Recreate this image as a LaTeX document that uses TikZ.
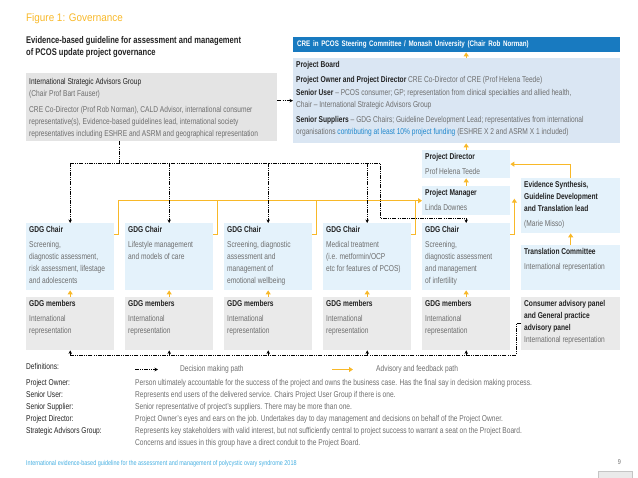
\documentclass[tikz,border=0pt]{standalone}
\usepackage{fontspec}
\setmainfont{Liberation Sans}[FakeStretch=0.78]
\newfontfamily\titlefont{Liberation Sans}[FakeStretch=0.9]
\usetikzlibrary{arrows.meta, calc}
\definecolor{govorange}{RGB}{248,184,40}
\definecolor{govblue}{RGB}{24,122,192}
\definecolor{boardfill}{RGB}{218,230,243}
\definecolor{chairfill}{RGB}{228,242,251}
\definecolor{greyfill}{RGB}{234,234,234}
\definecolor{isagfill}{RGB}{228,228,228}
\definecolor{ink}{RGB}{35,35,35}
\definecolor{soft}{RGB}{110,110,110}
\definecolor{linkblue}{RGB}{30,135,205}
\definecolor{footblue}{RGB}{70,175,225}
\newcommand{\bodyfont}{\fontsize{8.5}{12}\selectfont}
\newcommand{\head}[1]{{\color{ink}\bfseries #1}}
\newcommand{\boxtext}[3]{\parbox[t][#2pt][t]{#1pt}{\raggedright #3}}
\tikzset{
  cell/.style      = {anchor=north west, inner sep=3pt, font=\bodyfont, text=soft},
  chairbox/.style  = {cell, fill=chairfill},
  memberbox/.style = {cell, fill=greyfill},
  boardbox/.style  = {cell, fill=boardfill},
  isagbox/.style   = {cell, fill=isagfill, inner ysep=5pt},
  hdrbox/.style    = {anchor=north west, fill=govblue, text=white,
                      font=\fontsize{8}{10}\selectfont\bfseries,
                      text width=319pt, align=left, inner xsep=4pt, inner ysep=2pt,
                      minimum height=15pt},
  advise/.style    = {draw=govorange, line width=1pt, -{Triangle[length=4pt, width=5pt]}},
  advline/.style   = {draw=govorange, line width=1pt},
  decline/.style   = {draw=black, line width=0.8pt,
                      dash pattern=on 4pt off 1.2pt on 0.8pt off 1.2pt on 0.8pt off 1.2pt},
  decide/.style    = {decline, -{Stealth[length=3.5pt, width=3.5pt]}},
  deflabel/.style  = {anchor=base west, inner sep=0pt, font=\bodyfont, text=ink},
  deftext/.style   = {anchor=base west, inner sep=0pt, font=\bodyfont, text=soft},
}
\begin{document}
\begin{tikzpicture}[x=1pt, y=-1pt]
  \useasboundingbox (0,0) rectangle (638,478);

  % title
  \node[anchor=base west, inner sep=0pt, font=\titlefont\fontsize{11}{13}\selectfont,
        text=govorange] (title) at (26,21.5) {Figure 1: Governance};
  \node[anchor=north west, inner sep=0pt, align=left, text=ink,
        font=\fontsize{9.7}{12}\selectfont\bfseries] (subtitle) at (26,36)
        {Evidence-based guideline for assessment and management\\
         of PCOS update project governance};

  % upper boxes
  \node[isagbox] (isag) at (26,73) {\boxtext{245}{58}{%
    {\color{ink}International Strategic Advisors Group}\\
    (Chair Prof Bart Fauser)\\[4pt]
    CRE Co-Director (Prof Rob Norman), CALD Advisor, international consumer\\
    representative(s), Evidence-based guidelines lead, international society\\
    representatives including ESHRE and ASRM and geographical representation}};
  \node[hdrbox] (hdr) at (293,37)
    {CRE in PCOS Steering Committee / Monash University (Chair Rob Norman)};
  \node[boardbox] (pb) at (293,58) {\boxtext{321}{79}{%
    \head{Project Board}\\[3pt]
    \head{Project Owner and Project Director} CRE Co-Director of CRE (Prof Helena Teede)\\[1pt]
    \head{Senior User} -- PCOS consumer; GP; representation from clinical specialties and allied health,\\
    Chair -- International Strategic Advisors Group\\[3pt]
    \head{Senior Suppliers} -- GDG Chairs; Guideline Development Lead; representatives from international\\
    organisations \textcolor{linkblue}{contributing at least 10\% project funding}
    (ESHRE X 2 and ASRM X 1 included)}};

  % project management
  \node[chairbox] (pd) at (422,150)
    {\boxtext{82}{22}{\head{Project Director}\\[3pt] Prof Helena Teede}};
  \node[chairbox] (pm) at (422,186)
    {\boxtext{82}{23}{\head{Project Manager}\\[3pt] Linda Downes}};
  \node[chairbox] (es) at (521,178) {\boxtext{93}{49}{%
    \head{Evidence Synthesis,\\ Guideline Development\\ and Translation lead}\\[3pt]
    (Marie Misso)}};
  \node[chairbox] (tc) at (521,245) {\boxtext{93}{39}{%
    \head{Translation Committee}\\[3pt] International representation}};
  \node[memberbox] (cap) at (521,297) {\boxtext{93}{47}{%
    \head{Consumer advisory panel\\ and General practice\\ advisory panel}\\
    International representation}};

  % guideline development groups
  \node[chairbox] (c1) at (26,223) {\boxtext{82}{61}{\head{GDG Chair}\\[3pt]
    Screening,\\ diagnostic assessment,\\ risk assessment, lifestage\\ and adolescents}};
  \node[chairbox] (c2) at (125,223) {\boxtext{82}{61}{\head{GDG Chair}\\[3pt]
    Lifestyle management\\ and models of care}};
  \node[chairbox] (c3) at (224,223) {\boxtext{82}{61}{\head{GDG Chair}\\[3pt]
    Screening, diagnostic\\ assessment and\\ management of\\ emotional wellbeing}};
  \node[chairbox] (c4) at (323,223) {\boxtext{82}{61}{\head{GDG Chair}\\[3pt]
    Medical treatment\\ (i.e. metformin/OCP\\ etc for features of PCOS)}};
  \node[chairbox] (c5) at (422,223) {\boxtext{82}{61}{\head{GDG Chair}\\[3pt]
    Screening,\\ diagnostic assessment\\ and management\\ of infertility}};
  \foreach \i/\x in {1/26, 2/125, 3/224, 4/323, 5/422}
    \node[memberbox] (m\i) at (\x,297)
      {\boxtext{82}{47}{\head{GDG members}\\[3pt] International\\ representation}};

  % advisory and feedback path
  \draw[advise] (pb.north -| pd.north) -- (hdr.south -| pd.north);
  \draw[advise] (pd.north) -- (pb.south -| pd.north);
  \draw[advise] (pm.north) -- (pd.south);
  \draw[advise] (es.north) |- (pd.east);
  \draw[advise] (tc.north) -- (es.south);
  \foreach \i in {1,...,5}
    \draw[advise] (m\i.north) -- (c\i.south);
  \draw[advise] ([yshift=-12pt]c1.north east) -- ++(4,0) |- (pm.west);
  \foreach \i in {2,3,4}
    \draw[advline] ([yshift=-12pt]c\i.north east) -- ++(4,0) coordinate (k\i) -- (k\i |- pm.west);
  \draw[advise] ([yshift=-12pt]c5.north east) -- ++(4,0) coordinate (k5) -- ([yshift=2pt]k5 |- pm.east);

  % decision making path
  \coordinate (bus) at (119,163);
  \coordinate (turn) at (380,163);
  \coordinate (drop) at (380,218);
  \coordinate (fb) at (516,355);
  \draw[decide] (isag.east |- pb.west) -- (pb.west);
  \draw[decline] (bus |- isag.south) -- (bus);
  \draw[decide] (c1.north |- bus) -- (turn) -- (drop) -| (c5.north);
  \foreach \i in {1,...,4}
    \draw[decide] (c\i.north |- bus) -- (c\i.north);
  \draw[decline] (cap.west) -| (fb) -- (m1.south |- fb);
  \foreach \i in {1,...,5}
    \draw[decide] (m\i.south |- fb) -- (m\i.south);

  % definitions
  \node[deflabel] (defs) at (26,370) {Definitions:};
  \node[deftext] (lgdec) at (180,372) {Decision making path};
  \node[deftext] (lgadv) at (376,372) {Advisory and feedback path};
  \draw[decide] ([xshift=-45pt, yshift=2.5pt]lgdec.base west) -- ([xshift=-22pt, yshift=2.5pt]lgdec.base west);
  \draw[advise] ([xshift=-44pt, yshift=2.5pt]lgadv.base west) -- ([xshift=-23pt, yshift=2.5pt]lgadv.base west);

  \node[deflabel] (d1) at (26,386) {Project Owner:};
  \node[deflabel] (d2) at (26,398) {Senior User:};
  \node[deflabel] (d3) at (26,410) {Senior Supplier:};
  \node[deflabel] (d4) at (26,422) {Project Director:};
  \node[deflabel] (d5) at (26,434) {Strategic Advisors Group:};
  \node[deftext] (t1) at (135,386) {Person ultimately accountable for the success of the project and owns the business case. Has the final say in decision making process.};
  \node[deftext] (t2) at (135,398) {Represents end users of the delivered service. Chairs Project User Group if there is one.};
  \node[deftext] (t3) at (135,410) {Senior representative of project's suppliers. There may be more than one.};
  \node[deftext] (t4) at (135,422) {Project Owner's eyes and ears on the job. Undertakes day to day management and decisions on behalf of the Project Owner.};
  \node[deftext] (t5) at (135,434) {Represents key stakeholders with valid interest, but not sufficiently central to project success to warrant a seat on the Project Board.};
  \node[deftext] (t6) at (135,446) {Concerns and issues in this group have a direct conduit to the Project Board.};

  % footer
  \node[anchor=base west, inner sep=0pt, font=\fontsize{7}{8}\selectfont, text=footblue]
    (foot) at (26,465.5) {International evidence-based guideline for the assessment and management of polycystic ovary syndrome 2018};
  \node[anchor=base east, inner sep=0pt, font=\fontsize{7}{8}\selectfont, text=soft]
    (page) at (621,465) {9};
  \node[anchor=north west, draw=soft!40, fill=greyfill, minimum width=34pt, minimum height=7pt,
        inner sep=0pt] (badge) at (598,471) {};
\end{tikzpicture}
\end{document}
